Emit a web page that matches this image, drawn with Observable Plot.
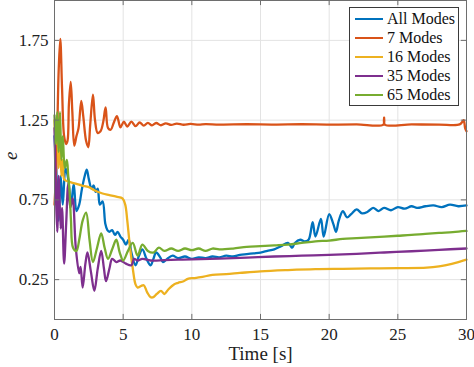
<!DOCTYPE html>
<html>
<head>
<meta charset="utf-8">
<script src="https://cdn.jsdelivr.net/npm/d3@7"></script>
<script src="https://cdn.jsdelivr.net/npm/@observablehq/plot@0.6"></script>
<style>
  html, body { margin: 0; padding: 0; background: #fff; }
  #wrap { position: relative; width: 474px; height: 367px; font-family: 'Liberation Serif', 'DejaVu Serif', serif; }
  #wrap svg, #wrap svg text { font-family: 'Liberation Serif', 'DejaVu Serif', serif !important; }
  #legend { position: absolute; left: 349px; top: 7px; width: 110px; height: 99px; border: 1px solid #3a3a3a; background: #fff; box-sizing: border-box; }
  .row { position: absolute; left: 5px; height: 19px; display: flex; align-items: center; font-size: 16px; color: #111; white-space: nowrap; font-family: 'Liberation Serif', serif; }
  .sw { width: 28px; height: 2px; margin-right: 4px; }
</style>
</head>
<body>
<div id="wrap"><div id="legend"></div></div>
<script>
// ---- data ----
const seriesNames = ["All Modes", "7 Modes", "16 Modes", "35 Modes", "65 Modes"];
const seriesColors = ["#0072BD", "#D95319", "#EDB120", "#7E2F8E", "#77AC30"];
const xTicks = [0, 5, 10, 15, 20, 25, 30];
const yTicks = [0.25, 0.75, 1.25, 1.75];

const allModes = [[0,1.15],[0.15,0.9],[0.3,0.62],[0.45,0.9],[0.6,0.72],[0.8,0.95],[1.0,0.88],[1.2,0.72],[1.4,0.85],[1.6,0.68],[1.8,0.72],[2.0,0.82],[2.2,0.9],[2.35,0.94],[2.5,0.88],[2.7,0.82],[2.85,0.84],[3.0,0.8],[3.15,0.82],[3.3,0.72],[3.5,0.74],[3.7,0.6],[3.85,0.56],[4.0,0.55],[4.2,0.56],[4.4,0.53],[4.6,0.55],[4.8,0.52],[5.0,0.5],[5.2,0.47],[5.4,0.5],[5.6,0.42],[5.9,0.34],[6.15,0.4],[6.4,0.44],[6.7,0.38],[7.0,0.34],[7.2,0.38],[7.4,0.42],[7.7,0.39],[7.9,0.36],[8.2,0.38],[8.6,0.4],[9.0,0.385],[9.5,0.395],[10,0.38],[10.5,0.39],[11,0.385],[11.5,0.395],[12,0.39],[12.5,0.4],[13,0.395],[13.5,0.405],[14,0.41],[14.5,0.415],[15,0.42],[15.5,0.43],[16,0.44],[16.5,0.46],[17.0,0.48],[17.3,0.45],[17.5,0.48],[17.9,0.5],[18.2,0.49],[18.5,0.5],[18.8,0.61],[19.0,0.52],[19.4,0.63],[19.6,0.52],[20.0,0.66],[20.3,0.6],[20.5,0.55],[20.7,0.62],[21.0,0.68],[21.3,0.64],[21.6,0.66],[22,0.69],[22.4,0.665],[22.8,0.675],[23.2,0.7],[23.6,0.68],[24,0.7],[24.5,0.685],[25,0.705],[25.5,0.695],[26,0.71],[26.4,0.7],[27,0.71],[27.6,0.715],[28.2,0.705],[28.8,0.72],[29.4,0.71],[30,0.715]];

const modes7 = [[0,0.72],[0.15,1.0],[0.3,1.55],[0.42,1.76],[0.55,1.45],[0.7,1.15],[0.85,1.1],[0.95,1.12],[1.05,1.35],[1.18,1.49],[1.3,1.3],[1.44,1.09],[1.6,1.15],[1.75,1.2],[1.95,1.37],[2.1,1.27],[2.3,1.12],[2.46,1.08],[2.6,1.22],[2.8,1.41],[2.95,1.25],[3.14,1.17],[3.35,1.18],[3.55,1.24],[3.72,1.33],[3.9,1.2],[4.1,1.19],[4.3,1.23],[4.55,1.275],[4.8,1.205],[5.05,1.24],[5.3,1.21],[5.6,1.24],[5.9,1.212],[6.2,1.235],[6.5,1.215],[6.8,1.233],[7.1,1.217],[7.4,1.232],[7.75,1.218],[8.1,1.23],[8.5,1.22],[8.9,1.228],[9.4,1.221],[9.9,1.226],[10.5,1.222],[11,1.225],[12,1.222],[14,1.224],[16,1.222],[18,1.224],[20,1.222],[22,1.223],[23.95,1.222],[24.0,1.265],[24.05,1.222],[26,1.223],[28,1.222],[29.5,1.223],[29.7,1.24],[29.8,1.25],[29.9,1.2],[30,1.18]];

const modes16 = [[0,1.25],[0.1,1.1],[0.2,1.2],[0.3,0.95],[0.4,1.15],[0.5,0.9],[0.6,1.0],[0.7,0.88],[0.85,0.87],[1.2,0.86],[1.6,0.85],[2.0,0.84],[2.5,0.83],[2.9,0.81],[3.5,0.79],[4.0,0.78],[4.5,0.77],[4.95,0.76],[5.15,0.72],[5.3,0.62],[5.5,0.45],[5.7,0.32],[5.9,0.22],[6.05,0.2],[6.3,0.21],[6.5,0.215],[6.75,0.17],[7.0,0.14],[7.2,0.14],[7.45,0.16],[7.75,0.18],[8.0,0.16],[8.3,0.19],[8.7,0.22],[9.0,0.23],[9.4,0.24],[9.7,0.255],[10.2,0.26],[10.65,0.265],[11.5,0.28],[12.5,0.285],[13.5,0.292],[15,0.302],[17,0.31],[19,0.316],[21,0.318],[23,0.32],[25,0.322],[27.1,0.325],[28,0.333],[28.6,0.343],[29.2,0.355],[30,0.375]];

const modes35 = [[0,1.2],[0.1,0.8],[0.2,0.55],[0.3,0.9],[0.45,0.57],[0.55,0.7],[0.7,0.35],[0.85,0.6],[1.0,0.85],[1.15,0.7],[1.32,0.76],[1.55,0.45],[1.8,0.29],[1.9,0.33],[2.05,0.2],[2.25,0.35],[2.4,0.42],[2.65,0.3],[2.9,0.18],[3.15,0.32],[3.4,0.43],[3.6,0.32],[3.75,0.24],[4.0,0.32],[4.2,0.38],[4.5,0.36],[4.8,0.37],[5.2,0.35],[5.6,0.34],[5.8,0.38],[6.05,0.37],[6.4,0.38],[7,0.37],[8,0.372],[9,0.375],[10,0.377],[12,0.382],[14,0.388],[16,0.395],[18,0.4],[20,0.405],[22,0.412],[24,0.42],[26,0.428],[28,0.437],[30,0.445]];

const modes65 = [[0,1.28],[0.1,1.1],[0.2,1.3],[0.3,1.05],[0.4,1.3],[0.5,1.0],[0.6,1.15],[0.75,0.95],[0.9,1.0],[1.0,0.9],[1.1,0.8],[1.2,0.62],[1.35,0.45],[1.6,0.43],[1.8,0.5],[2.05,0.62],[2.3,0.67],[2.55,0.5],[2.8,0.36],[3.1,0.45],[3.4,0.54],[3.65,0.45],[3.9,0.38],[4.2,0.44],[4.5,0.5],[4.75,0.42],[5.0,0.37],[5.35,0.43],[5.7,0.48],[6.05,0.4],[6.4,0.47],[6.8,0.43],[7.2,0.42],[7.6,0.45],[8.0,0.43],[8.5,0.445],[9,0.43],[9.5,0.445],[10,0.435],[10.5,0.445],[11,0.43],[11.5,0.445],[12,0.44],[13,0.445],[14,0.455],[15,0.46],[16,0.465],[17,0.47],[18,0.48],[19,0.49],[20,0.495],[21,0.505],[22,0.51],[23,0.515],[24,0.52],[25,0.525],[26,0.53],[27,0.537],[28,0.543],[29,0.548],[30,0.555]];

const seriesData = [allModes, modes7, modes16, modes35, modes65];

// ---- build ----
const rows = seriesData.flatMap((arr, i) => arr.map(([t, e]) => ({t, e, s: seriesNames[i]})));
const axisColor = "#6e6e6e";
const font = "'Liberation Serif', 'DejaVu Serif', serif";

const plot = Plot.plot({
  width: 474,
  height: 367,
  marginLeft: 54,
  marginRight: 8,
  marginTop: 0,
  marginBottom: 48,
  style: {fontFamily: font, fontSize: "17px", color: "#222", background: "#fff"},
  x: {domain: [0, 30]},
  y: {domain: [0, 2]},
  color: {domain: seriesNames, range: seriesColors},
  marks: [
    Plot.gridX({ticks: xTicks, stroke: "#e3e3e3", strokeOpacity: 1}),
    Plot.gridY({ticks: yTicks, stroke: "#e3e3e3", strokeOpacity: 1}),
    Plot.line(rows, {x: "t", y: "e", z: "s", stroke: "s", strokeWidth: 2.3, curve: "catmull-rom"}),
    Plot.frame({stroke: axisColor, strokeWidth: 1}),
    // inward tick marks on all four sides
    Plot.ruleX(xTicks, {x: d => d, y1: 0, y2: 0.032, stroke: axisColor}),
    Plot.ruleX(xTicks, {x: d => d, y1: 2, y2: 1.968, stroke: axisColor}),
    Plot.ruleY(yTicks, {y: d => d, x1: 0, x2: 0.38, stroke: axisColor}),
    Plot.ruleY(yTicks, {y: d => d, x1: 30, x2: 29.62, stroke: axisColor}),
    Plot.axisX({ticks: xTicks, tickSize: 0, tickPadding: 8, label: null, fontSize: 17, fontFamily: font}),
    Plot.axisY({ticks: yTicks, tickSize: 0, tickPadding: 6, label: null, tickFormat: d => d.toFixed(2), fontSize: 17, fontFamily: font}),
    Plot.text(["Time [s]"], {frameAnchor: "bottom", dy: 40, fontSize: 19, fontFamily: font}),
    Plot.text(["e"], {frameAnchor: "left", dx: -44, rotate: -90, fontSize: 19, fontStyle: "italic", fontFamily: font})
  ]
});
const wrap = document.getElementById("wrap");
wrap.insertBefore(plot, wrap.firstChild);

const legend = document.getElementById("legend");
seriesNames.forEach((name, i) => {
  const r = document.createElement("div");
  r.className = "row";
  r.style.top = (1 + i * 19) + "px";
  const sw = document.createElement("div");
  sw.className = "sw";
  sw.style.background = seriesColors[i];
  const t = document.createElement("span");
  t.textContent = name;
  r.appendChild(sw); r.appendChild(t);
  legend.appendChild(r);
});
</script>
</body>
</html>
